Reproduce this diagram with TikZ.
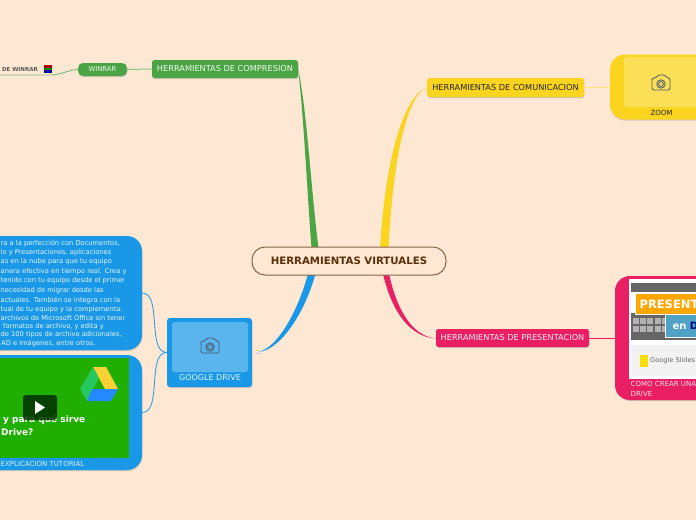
\documentclass[tikz,border=0pt]{standalone}
\usepackage{fontspec}
\setmainfont{DejaVu Sans}
\usepackage{xcolor}
\usetikzlibrary{shadows}
\definecolor{paper}{HTML}{FEE8D3}
\definecolor{hubbrown}{HTML}{5B300A}
\definecolor{gdblue}{HTML}{1A98E8}
\definecolor{gdgreen}{HTML}{4BA544}
\definecolor{gdyellow}{HTML}{FAD41E}
\definecolor{gdpink}{HTML}{E91E63}
\definecolor{iconslate}{HTML}{4A5A70}
\definecolor{clipgreen}{HTML}{20AE00}
\newcommand{\cameraicon}[2]{%
  \draw[iconslate,line width=0.8pt,rounded corners=1.5pt] (#1-9,#2-5) -- (#1-5,#2-5) -- (#1-3,#2-8) -- (#1+4,#2-8) -- (#1+6,#2-5) -- (#1+9,#2-5) -- (#1+9,#2+7) -- (#1-9,#2+7) -- cycle;
  \draw[iconslate,line width=0.8pt] (#1,#2+1) circle (4.2) (#1,#2+1) circle (2.4);
}
\begin{document}
\begin{tikzpicture}[x=1pt,y=-1pt]
            \tikzset{
            hub node/.style={rectangle,rounded corners=13pt,draw=hubbrown!75,line width=1pt,fill=paper,text=hubbrown,font=\bfseries\fontsize{10.2}{12}\selectfont,minimum width=194pt,minimum height=28pt,inner sep=0},
            topic node/.style={rectangle,rounded corners=2.5pt,minimum height=18pt,inner sep=0,font=\fontsize{8.2}{10}\selectfont,drop shadow={shadow xshift=0.4pt,shadow yshift=-1pt,opacity=0.35}},
            tile node/.style={rectangle,rounded corners=15pt,inner sep=0,drop shadow={shadow xshift=0.4pt,shadow yshift=-1pt,opacity=0.35}},
            caption node/.style={inner sep=0,font=\fontsize{7}{9}\selectfont},
            desc line/.style={inner sep=0,anchor=west,text=white!90!gdblue,font=\fontsize{6.7}{8}\selectfont}
            }
            \fill[paper] (0,0) rectangle (696,520);
            \useasboundingbox (0,0) rectangle (696,520);
            \clip (0,0) rectangle (696,520);

            \coordinate (driveicon) at (258,352);
            \coordinate (rarbend) at (52,75);
            \coordinate (rarend) at (-2,75);
            % tapered main branches
            \fill[gdgreen] (298,68) .. controls (307,110) and (311,190) .. (318.5,248) -- (311.5,248) .. controls (307,190) and (304,120) .. (298,68) -- cycle;
            \fill[gdyellow] (427,87) .. controls (402,100) and (392,180) .. (388.5,248) -- (380,248) .. controls (384,180) and (398,100) .. (427,87) -- cycle;
            \fill[gdblue] (driveicon) .. controls (278,351) and (303,318) .. (315.5,274) -- (308,274) .. controls (297,314) and (276,349) .. (driveicon) -- cycle;
            \fill[gdpink] (436,338.5) .. controls (412,336) and (397,310) .. (389,274) -- (383,274) .. controls (392,312) and (410,337) .. (436,338.5) -- cycle;

            \node[hub node] (hub) at (349,261) {HERRAMIENTAS VIRTUALES};

            \node[topic node,fill=gdgreen,text=white!92!gdgreen,minimum width=146pt] (compresion) at (225,69) {HERRAMIENTAS DE COMPRESION};
            \node[topic node,fill=gdgreen,text=white!92!gdgreen,minimum width=49pt,minimum height=13pt,rounded corners=5pt,font=\fontsize{6.8}{8}\selectfont] (winrar) at (102.5,69.5) {WINRAR};
            \node[inner sep=0,anchor=east,text=black!65,font=\bfseries\fontsize{5.5}{7}\selectfont] (winrarnote) at (38,69) {DE WINRAR};
            \node[topic node,fill=gdyellow,text=black!85,minimum width=157pt,minimum height=19pt] (comunicacion) at (505.5,87.5) {HERRAMIENTAS DE COMUNICACION};
            \node[topic node,fill=gdpink,text=white!92!gdpink,minimum width=153pt] (presentacion) at (512.5,338) {HERRAMIENTAS DE PRESENTACION};

            % tiles
            \node[tile node,fill=gdyellow,minimum width=120pt,minimum height=65pt] (zoomtile) at (670,87) {};
            \node[rectangle,rounded corners=2pt,fill=white!25!gdyellow,minimum width=90pt,minimum height=50pt,inner sep=0] (zoomimage) at (669,82) {};
            \cameraicon{661}{83}
            \node[caption node,text=black!85] (zoomlabel) at (661.5,112.5) {ZOOM};

            \node[tile node,fill=gdpink,minimum width=120pt,minimum height=124pt] (slidestile) at (675,338) {};
            \node[rectangle,fill=white,minimum width=80pt,minimum height=100pt,inner sep=0] (slidesimage) at (669,329) {};
            \fill[black!60] (631,283) rectangle (700,292);
            \fill[black!60] (631,313) rectangle (700,340);
            \foreach \col in {0,...,9}
              \foreach \row in {0,1} {
                \fill[black!30] (633+\col*7.2,318+\row*7.6) rectangle +(6,6);
              }
            \fill[black!5] (631,345) rectangle (700,376);
            \node[rectangle,fill=orange!70!yellow,draw=white,line width=1.2pt,minimum width=80pt,minimum height=21pt,inner sep=0,anchor=north west,text=white,font=\bfseries\fontsize{11.5}{12}\selectfont,text width=76pt] (presentbox) at (635,293) {\hspace{2pt}PRESENT};
            \node[rectangle,fill=cyan!45!teal!85!white,draw=white,line width=1.2pt,minimum width=50pt,minimum height=23pt,inner sep=0,anchor=north west,text=white,font=\bfseries\fontsize{10}{12}\selectfont,text width=46pt] (enbox) at (665,314) {\hspace{5pt}en \textcolor{blue!50!black}{D}};
            \fill[yellow!80!orange] (640,355) rectangle (648,367);
            \node[inner sep=0,anchor=west,text=black!60,font=\fontsize{6.6}{8}\selectfont] (slideslabel) at (650,361) {Google Slides};
            \node[caption node,anchor=west,text=white!85!gdpink] (slidesone) at (630.5,384) {COMO CREAR UNA};
            \node[caption node,anchor=west,text=white!85!gdpink] (slidestwo) at (630.5,393.5) {DRIVE};

            \node[topic node,fill=gdblue,minimum width=85pt,minimum height=69pt,rounded corners=3pt] (drive) at (209.5,352.5) {};
            \node[rectangle,rounded corners=3pt,fill=white!28!gdblue,minimum width=76pt,minimum height=50pt,inner sep=0] (driveimage) at (210,347) {};
            \cameraicon{210}{346}
            \node[caption node,text=white!90!gdblue,font=\fontsize{8}{9}\selectfont] (drivelabel) at (210,378) {GOOGLE DRIVE};

            \node[tile node,fill=gdblue,minimum width=172pt,minimum height=114pt] (desc) at (56,293) {};
            \foreach \i/\yy/\xs/\txt in {
              1/243.5/0.5/{ra a la perfección con Documentos,},
              2/252.5/0.5/{lo y Presentaciones, aplicaciones},
              3/262/0.5/{as en la nube para que tu equipo},
              4/271.5/0.5/{anera efectiva en tiempo real. Crea y},
              5/281/0.5/{tenido con tu equipo desde el primer},
              6/290.5/0.5/{necesidad de migrar desde las},
              7/300.5/0.5/{actuales. También se integra con la},
              8/309.5/0.5/{tual de tu equipo y la complementa.},
              9/317.5/0.5/{archivos de Microsoft Office sin tener},
              10/326.5/3/{formatos de archivo, y edita y},
              11/334.5/0.5/{de 100 tipos de archivo adicionales,},
              12/343.5/1/{AD e imágenes, entre otros.}} {
                \node[desc line] (desc\i) at (\xs,\yy) {\txt};
            }

            \node[tile node,fill=gdblue,minimum width=172pt,minimum height=115pt] (tutorial) at (56,412.5) {};
            \fill[clipgreen] (-2,358) rectangle (128.5,458);
            \fill[yellow!60!orange!80!white] (93,367) -- (106,367) -- (118,389) -- (105,389) -- cycle;
            \fill[green!50!teal!85!white] (93,367) -- (99,378) -- (87,401) -- (80,389) -- cycle;
            \fill[blue!55!cyan!85!white] (92,389) -- (118,389) -- (111,401) -- (87,401) -- cycle;
            \node[inner sep=0,anchor=west,text=white,font=\bfseries\fontsize{9}{10}\selectfont] (tutorialone) at (3,419.5) {y para qué sirve};
            \node[inner sep=0,anchor=west,text=white,font=\bfseries\fontsize{9}{10}\selectfont] (tutorialtwo) at (1,432) {Drive?};
            \node[rectangle,rounded corners=3pt,fill=black!85!green,fill opacity=0.8,minimum width=34pt,minimum height=25pt,inner sep=0] (playbtn) at (40,407.5) {};
            \fill[white] (35,401) -- (45,407.5) -- (35,414) -- cycle;
            \node[caption node,anchor=west,text=white!85!gdblue] (tutoriallabel) at (0.5,463.5) {EXPLICACION TUTORIAL};

            \path[draw]
            (compresion.west) edge[gdgreen!65,line width=1pt] (winrar.east)
            (comunicacion.east) edge[gdyellow!60,line width=0.8pt] (zoomtile.west |- comunicacion.east)
            (presentacion.east) edge[gdpink,line width=0.8pt] (slidestile.west |- presentacion.east)
            (drive.west) edge[gdblue,line width=0.8pt,out=180,in=0,looseness=0.8] (desc.east)
            (drive.west) edge[gdblue,line width=0.8pt,out=180,in=0,looseness=0.8] (tutorial.east)
            ;
            \draw[gdgreen!75,line width=0.9pt] (winrar.west) to[out=180,in=0,looseness=0.7] (rarbend) -- (rarend);

            % small marks
            \fill[red!70!black] (44,65) rectangle (52,67.5);
            \fill[green!50!black] (44,67.5) rectangle (52,70);
            \fill[blue!60!black] (44,70) rectangle (52,72.5);
            \fill[white] (driveicon) circle (3);
            \draw[red!35,line width=0.7pt] (driveicon) ++(90:2.2) arc (90:200:2.2);
            \draw[yellow!70!orange,line width=0.7pt] (driveicon) ++(200:2.2) arc (200:290:2.2);
            \draw[green!40!black!50,line width=0.7pt] (driveicon) ++(290:2.2) arc (290:360:2.2);
            \draw[blue!35,line width=0.7pt] (driveicon) ++(0:2.2) arc (0:90:2.2);
        \end{tikzpicture}
\end{document}
